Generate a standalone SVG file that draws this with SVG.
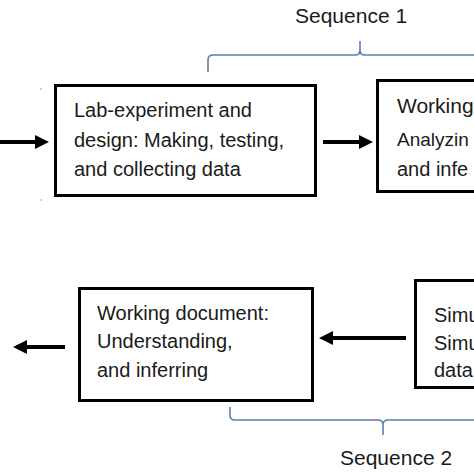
<svg xmlns="http://www.w3.org/2000/svg" width="474" height="474" viewBox="0 0 474 474">
<defs>
<style>
.box{fill:#fff;stroke:#000;stroke-width:3}
.t{font-family:"Liberation Sans",Arial,sans-serif;font-size:20px;fill:#1a1a1a}
.seq{font-family:"Liberation Sans",Arial,sans-serif;font-size:21px;fill:#1a1a1a}
.shaft{stroke:#000;stroke-width:4;fill:none}
.head{fill:#000}
.brace{stroke:#5a7db5;stroke-width:1.6;fill:none}
</style>
</defs>
<rect width="474" height="474" fill="#fff"/>
<g id="connectors">
<line class="shaft" x1="0" y1="142" x2="38" y2="142"/>
<polygon class="head" points="35,135 49,142 35,149"/>
<line class="shaft" x1="323" y1="142" x2="362" y2="142"/>
<polygon class="head" points="359,135 373,142 359,149"/>
<line class="shaft" x1="406" y1="338" x2="330" y2="338"/>
<polygon class="head" points="333,331 319,338 333,345"/>
<line class="shaft" x1="65" y1="347" x2="24" y2="347"/>
<polygon class="head" points="27,340 13,347 27,354"/>
</g>
<g id="sequence1">
<path class="brace" d="M208,72 V60 Q208,55 213,55 H355 Q360,55 360,50 V41 M360,50 Q360,55 365,55 H474"/>
<text class="seq" x="295" y="23">Sequence 1</text>
</g>
<g id="sequence2">
<path class="brace" d="M230,407 V415 Q230,420 235,420 H378 Q383,420 383,425 V435 M383,425 Q383,420 388,420 H474"/>
<text class="seq" x="340" y="465">Sequence 2</text>
</g>
<g id="node-lab">
<rect class="box" x="55.5" y="85.5" width="260" height="110"/>
<text class="t" x="74" y="117">Lab-experiment and</text>
<text class="t" x="74" y="147">design: Making, testing,</text>
<text class="t" x="74" y="176">and collecting data</text>
</g>
<g id="node-working1">
<rect class="box" x="377.5" y="80.5" width="140" height="111"/>
<text class="t" x="397" y="113" style="font-size:21px">Working</text>
<text class="t" x="397" y="146" style="font-size:19px">Analyzin</text>
<text class="t" x="397" y="176">and infe</text>
</g>
<g id="node-working2">
<rect class="box" x="79.5" y="288.5" width="233" height="112"/>
<text class="t" x="97" y="320">Working document:</text>
<text class="t" x="97" y="348">Understanding,</text>
<text class="t" x="97" y="377">and inferring</text>
</g>
<g id="node-simu">
<rect class="box" x="415.5" y="280.5" width="100" height="107"/>
<text class="t" x="434" y="322">Simu</text>
<text class="t" x="434" y="350">Simu</text>
<text class="t" x="434" y="377">data</text>
</g>
<circle cx="41" cy="89" r="0.7" fill="#888"/>
<circle cx="41" cy="200" r="0.7" fill="#888"/>
</svg>
